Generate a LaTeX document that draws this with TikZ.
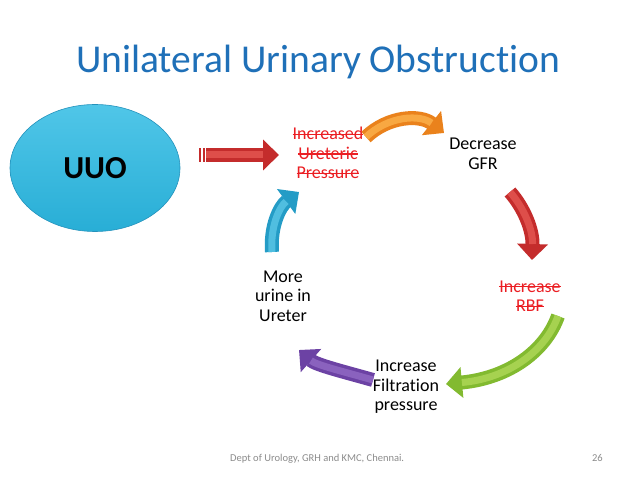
\documentclass[tikz,border=0pt]{standalone}
\usepackage{fontspec}
\setmainfont{Carlito}[Ligatures={NoCommon}]
\usetikzlibrary{arrows.meta,shapes.geometric,calc}
\newsavebox\strkbox
\newcommand\strk[1]{\sbox\strkbox{#1}\rlap{\usebox\strkbox}\rule[0.26em]{\wd\strkbox}{1.3pt}}
\definecolor{titleblue}{RGB}{31,112,184}
\definecolor{uuofill}{RGB}{40,174,214}
\definecolor{uuotop}{RGB}{80,198,232}
\definecolor{uuoedge}{RGB}{36,146,188}
\definecolor{strikered}{RGB}{235,30,35}
\definecolor{redD}{RGB}{196,44,44}
\definecolor{redL}{RGB}{222,78,74}
\definecolor{orangeD}{RGB}{234,130,28}
\definecolor{orangeL}{RGB}{248,168,66}
\definecolor{greenD}{RGB}{130,186,48}
\definecolor{greenL}{RGB}{166,210,80}
\definecolor{purpleD}{RGB}{108,66,164}
\definecolor{purpleL}{RGB}{138,98,190}
\definecolor{cyanD}{RGB}{36,156,198}
\definecolor{cyanL}{RGB}{80,190,224}
\definecolor{footgray}{RGB}{140,140,140}
\begin{document}
\begin{tikzpicture}[x=1pt,y=-1pt,
  body/.style={font=\fontsize{18}{19.5}\selectfont, align=center, inner sep=0pt},
  struck/.style={body, text=strikered},
  blockarrow/.style={draw=#1, line width=14pt, -{Triangle[length=16pt,width=30pt]}},
  shine/.style={draw=#1, line width=7pt, shorten >=16pt}
]
\useasboundingbox[fill=white] (0,0) rectangle (638,478);

% title
\node[anchor=base, text=titleblue, font=\fontsize{39.5}{42}\selectfont, inner sep=0pt] (title) at (318,73) {Unilateral Urinary Obstruction};

% UUO ellipse
\node[ellipse, minimum width=170pt, minimum height=127pt, top color=uuotop, bottom color=uuofill, draw=uuoedge, line width=0.6pt, font=\fontsize{32}{34}\selectfont\bfseries] (uuo) at (95,168) {UUO};

% text nodes
\node[struck] (inc) at (328,153) {\strk{Increased}\\\strk{Ureteric}\\\strk{Pressure}};
\node[body] (dec) at (483,154) {Decrease\\GFR};
\node[struck] (rbf) at (530,296) {\strk{Increase}\\\strk{RBF}};
\node[body] (filt) at (406,387) {Increase\\Filtration\\pressure};
\node[body] (more) at (283,296) {More\\urine in\\Ureter};

% footer
\node[anchor=base west, text=footgray, font=\fontsize{10.5}{12}\selectfont, inner sep=0pt] (foot) at (230,462) {Dept of Urology, GRH and KMC, Chennai.};
\node[anchor=base east, text=footgray, font=\fontsize{10.5}{12}\selectfont, inner sep=0pt] (page) at (603,462) {26};

% straight arrow UUO -> Increased
\coordinate (s1) at (206,155);
\coordinate (s2) at (279,155);
\fill[redD] (199,148) rectangle (201,162);
\fill[redD] (202.5,148) rectangle (204.5,162);
\draw[blockarrow=redD] (s1) -- (s2);
\draw[shine=redL] (s1) -- (s2);

% cycle arrows
\coordinate (o1) at (366,137);
\coordinate (o2) at (444,133);
\draw[blockarrow=orangeD] (o1) .. controls (388,116) and (420,114) .. (o2);
\draw[shine=orangeL] (o1) .. controls (388,116) and (420,114) .. (o2);

\coordinate (r1) at (510,192);
\coordinate (r2) at (532,260);
\draw[blockarrow=redD] (r1) .. controls (524,208) and (533,230) .. (r2);
\draw[shine=redL] (r1) .. controls (524,208) and (533,230) .. (r2);

\coordinate (g1) at (558,316);
\coordinate (g2) at (446,384);
\draw[blockarrow=greenD] (g1) .. controls (546,350) and (510,378) .. (g2);
\draw[shine=greenL] (g1) .. controls (546,350) and (510,378) .. (g2);

\coordinate (p1) at (373,380);
\coordinate (p2) at (299,350);
\draw[blockarrow=purpleD] (p1) .. controls (345,372) and (316,365) .. (p2);
\draw[shine=purpleL] (p1) .. controls (345,372) and (316,365) .. (p2);

\coordinate (c1) at (272,252);
\coordinate (c2) at (299,192);
\draw[blockarrow=cyanD] (c1) .. controls (270,226) and (280,206) .. (c2);
\draw[shine=cyanL] (c1) .. controls (270,226) and (280,206) .. (c2);
\end{tikzpicture}
\end{document}
